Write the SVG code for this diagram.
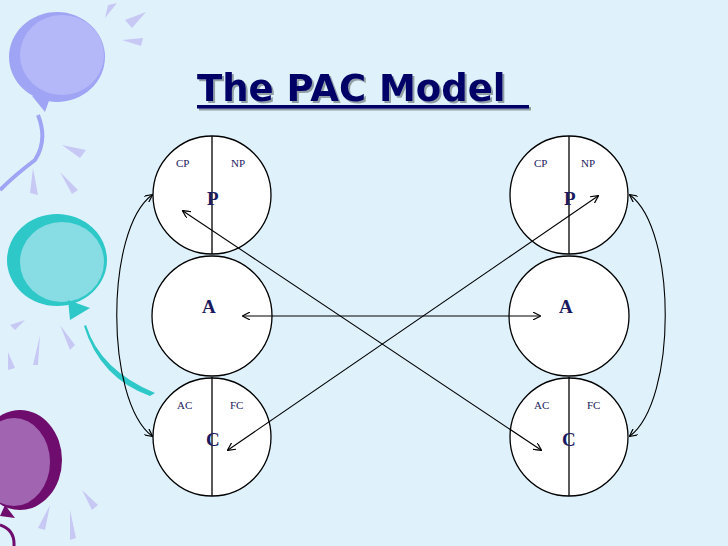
<svg xmlns="http://www.w3.org/2000/svg" width="728" height="546" viewBox="0 0 728 546">
<defs>
<style>
.c{fill:#fff;stroke:#000;stroke-width:1.3}
.d{stroke:#000;stroke-width:1.3}
.k{fill:none;stroke:#000;stroke-width:1.1;marker-start:url(#a);marker-end:url(#a)}
.s{font-family:"Liberation Serif",serif;font-size:11px;fill:#1a1a60}
.b{font-family:"Liberation Serif",serif;font-size:19px;font-weight:bold;fill:#1a1a60}
.sp{fill:#c8c8f4}
</style>
<filter id="sh" x="-5%" y="-20%" width="110%" height="140%"><feDropShadow dx="2" dy="2" stdDeviation="0.5" flood-color="#000" flood-opacity="0.35"/></filter>
<marker id="a" viewBox="0 0 10 10" refX="9" refY="5" markerWidth="8" markerHeight="8" orient="auto-start-reverse" markerUnits="userSpaceOnUse"><path d="M0,0 L10,5 L0,10" fill="none" stroke="#000" stroke-width="1.5"/></marker>
</defs>
<rect width="728" height="546" fill="#dff2fc"/>
<g id="balloons">
<ellipse cx="57" cy="57" rx="48" ry="45" fill="#a0a4f4"/>
<ellipse cx="62" cy="55" rx="42" ry="40" fill="#b4b8f8"/>
<path d="M32,96 L45,112 L50,98Z" fill="#a0a4f4"/>
<path d="M38,115 Q48,140 35,160 Q15,175 0,190" fill="none" stroke="#a0a4f4" stroke-width="4"/>
<path class="sp" d="M108,5 L117,3 L105,18Z M125,20 L146,12 L132,28Z M122,40 L143,38 L141,46Z M62,145 L86,150 L80,158Z M33,168 L38,195 L30,193Z M60,172 L78,190 L72,194Z"/>
<ellipse cx="57" cy="260" rx="50" ry="46" fill="#2ec8c8"/>
<ellipse cx="62" cy="262" rx="42" ry="40" fill="#88dde4"/>
<path d="M68,300 L70,320 L90,308Z" fill="#2ec8c8"/>
<path d="M86,325 Q100,370 155,393 L150,396 Q100,378 84,326Z" fill="#2ec8c8"/>
<path class="sp" d="M25,320 L15,330 L10,325Z M40,335 L38,365 L33,365Z M60,325 L75,345 L70,350Z M8,352 L15,368 L8,370Z"/>
<ellipse cx="20" cy="460" rx="42" ry="50" fill="#6e0d6e"/>
<ellipse cx="14" cy="462" rx="36" ry="44" fill="#a064b0"/>
<path d="M5,505 L15,518 L0,516Z" fill="#6e0d6e"/>
<path d="M0,525 Q15,530 14,546" fill="none" stroke="#6e0d6e" stroke-width="3"/>
<path class="sp" d="M82,490 L98,505 L92,510Z M50,505 L45,530 L38,528Z M70,510 L76,538 L70,540Z"/>
</g>
<g id="title" filter="url(#sh)">
<text x="197" y="101" font-family="DejaVu Sans,Verdana,sans-serif" font-size="37" font-weight="bold" fill="#000066">The PAC Model</text>
<rect x="197" y="105" width="332" height="3.5" fill="#000066"/>
</g>
<g id="left-P"><circle class="c" cx="212" cy="195" r="59"/><line class="d" x1="212" y1="136" x2="212" y2="254"/><text class="s" x="176" y="167">CP</text><text class="s" x="231" y="167">NP</text><text class="b" x="207" y="205">P</text></g>
<g id="left-A"><circle class="c" cx="212" cy="316" r="60"/><text class="b" x="202" y="313">A</text></g>
<g id="left-C"><circle class="c" cx="212" cy="437" r="59"/><line class="d" x1="212" y1="377" x2="212" y2="496"/><text class="s" x="177" y="409">AC</text><text class="s" x="230" y="409">FC</text><text class="b" x="206" y="446">C</text></g>
<g id="right-P"><circle class="c" cx="569" cy="195" r="59"/><line class="d" x1="569" y1="136" x2="569" y2="254"/><text class="s" x="534" y="167">CP</text><text class="s" x="581" y="167">NP</text><text class="b" x="564" y="205">P</text></g>
<g id="right-A"><circle class="c" cx="569" cy="316" r="60"/><text class="b" x="559" y="313">A</text></g>
<g id="right-C"><circle class="c" cx="569" cy="437" r="59"/><line class="d" x1="569" y1="377" x2="569" y2="496"/><text class="s" x="534" y="409">AC</text><text class="s" x="587" y="409">FC</text><text class="b" x="562" y="446">C</text></g>
<g id="connectors">
<path class="k" d="M152,195 C105,230 105,400 152,436"/>
<path class="k" d="M630,195 C677,230 677,400 630,436"/>
<path class="k" d="M243,316 L540,316"/>
<path class="k" d="M183,211 L541,450"/>
<path class="k" d="M598,196 L228,450"/>
</g>
</svg>
